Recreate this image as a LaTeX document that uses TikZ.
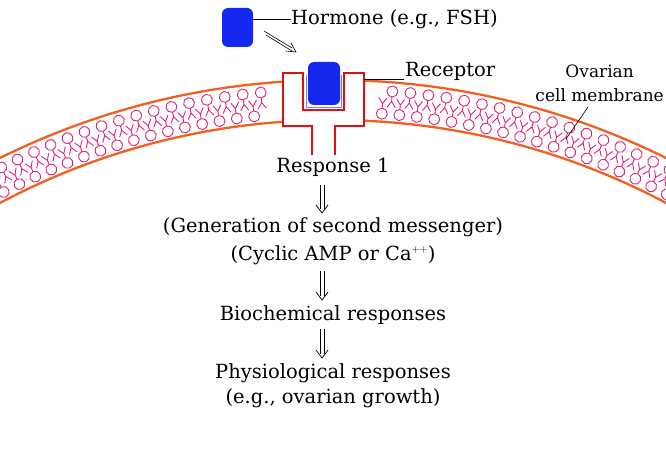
\documentclass[tikz,border=0pt]{standalone}
\usepackage{fontspec}
\setmainfont{DejaVu Serif}
\definecolor{mem}{HTML}{F0601E}
\definecolor{lip}{HTML}{E0207F}
\definecolor{hb}{HTML}{1428F0}
\definecolor{rec}{HTML}{E01010}
\newcommand{\darrow}[2]{%
  \draw[line width=0.7pt] ($(#1)+(-2,0)$) -- ($(#2)+(-2,4)$);
  \draw[line width=0.7pt] ($(#1)+(2,0)$) -- ($(#2)+(2,4)$);
  \draw[line width=0.7pt] ($(#2)+(-6,8)$) -- (#2) -- ($(#2)+(6,8)$);}
\usetikzlibrary{calc}
\begin{document}
\begin{tikzpicture}[x=1pt,y=1pt,
  lbl/.style={font=\fontsize{19.5}{24}\selectfont,inner sep=0pt},
  memb/.style={mem,line width=2.3pt},
  lipid/.style={lip,line width=0.9pt}]
\useasboundingbox (0,0) rectangle (666,448);
\begin{scope}
\clip (0,0) rectangle (666,448);
\coordinate (c) at (333,-382);
\draw[memb] (c) ++(120:750) arc (120:60:750);
\draw[memb] (c) ++(120:710) arc (120:60:710);
\foreach \t in {-28,-26.6,...,-5.5, 4.6,6.0,...,28}{
  \begin{scope}[shift={(c)},rotate=-\t]
    \draw[lipid] (0,741) circle (5.5);
    \draw[lipid] (0,735.5) -- (0,731) -- (-4,725) (0,731) -- (4,725);
  \end{scope}}
\foreach \t in {-27.3,-25.9,...,-5}{
  \begin{scope}[shift={(c)},rotate=-\t]
    \draw[lipid] (0,718) circle (5.5);
    \draw[lipid] (0,723.5) -- (0,728) -- (-4,734) (0,728) -- (4,734);
  \end{scope}}
\foreach \t in {3.9,5.3,...,28}{
  \begin{scope}[shift={(c)},rotate=-\t]
    \draw[lipid] (0,718) circle (5.5);
    \draw[lipid] (0,723.5) -- (0,728) -- (-4,734) (0,728) -- (4,734);
  \end{scope}}
\end{scope}
% receptor
\fill[white] (312,293)--(312,322)--(283,322)--(283,375)--(364,375)--(364,322)--(335,322)--(335,293)--cycle;
\draw[rec,line width=2pt] (312,293)--(312,322)--(283,322)--(283,375)--(303,375)--(303,338)--(344,338)--(344,375)--(364,375)--(364,322)--(335,322)--(335,293);
\draw[hb!60,line width=0.8pt] (306,373)--(306,341)--(341,341)--(341,373);
\fill[hb,rounded corners=6pt] (308,343) rectangle (340,386);
% hormone
\fill[hb,rounded corners=6pt] (222,401) rectangle (253,440);
\coordinate (hh) at (252,429);
\node[lbl,anchor=west] (hormone) at (291,429) {Hormone (e.g., FSH)};
\draw[line width=0.7pt] (hh) -- (hormone.west);
\draw[line width=0.6pt] (264,417) -- (292,400) (266,413) -- (292,397);
\draw[line width=0.6pt] (286,397) -- (296,396) -- (291,405);
\node[lbl,anchor=west] (receptor) at (405,377) {Receptor};
\coordinate (re) at (364,369);
\draw[line width=0.7pt] (re) -- (404,369);
\node[lbl,font=\fontsize{17}{24}\selectfont,align=center,anchor=east] (ovar) at (664,365) {Ovarian\\cell membrane};
\coordinate (mp) at (566,309);
\draw[line width=0.6pt] (588,341) -- (mp);
% pathway
\node[lbl] (r1) at (333,281) {Response 1};
\node[lbl] (gen) at (333,221) {(Generation of second messenger)};
\node[lbl] (cyc) at (333,193) {(Cyclic AMP or Ca$^{\scriptscriptstyle ++}$)};
\node[lbl] (bio) at (333,133) {Biochemical responses};
\node[lbl] (phy) at (333,75) {Physiological responses};
\node[lbl] (eg) at (333,50) {(e.g., ovarian growth)};
\coordinate (s1) at (322,263); \coordinate (e1) at (322,235);
\coordinate (s2) at (322,177); \coordinate (e2) at (322,148);
\coordinate (s3) at (322,119); \coordinate (e3) at (322,90);
\darrow{s1}{e1}\darrow{s2}{e2}\darrow{s3}{e3}
\end{tikzpicture}
\end{document}
